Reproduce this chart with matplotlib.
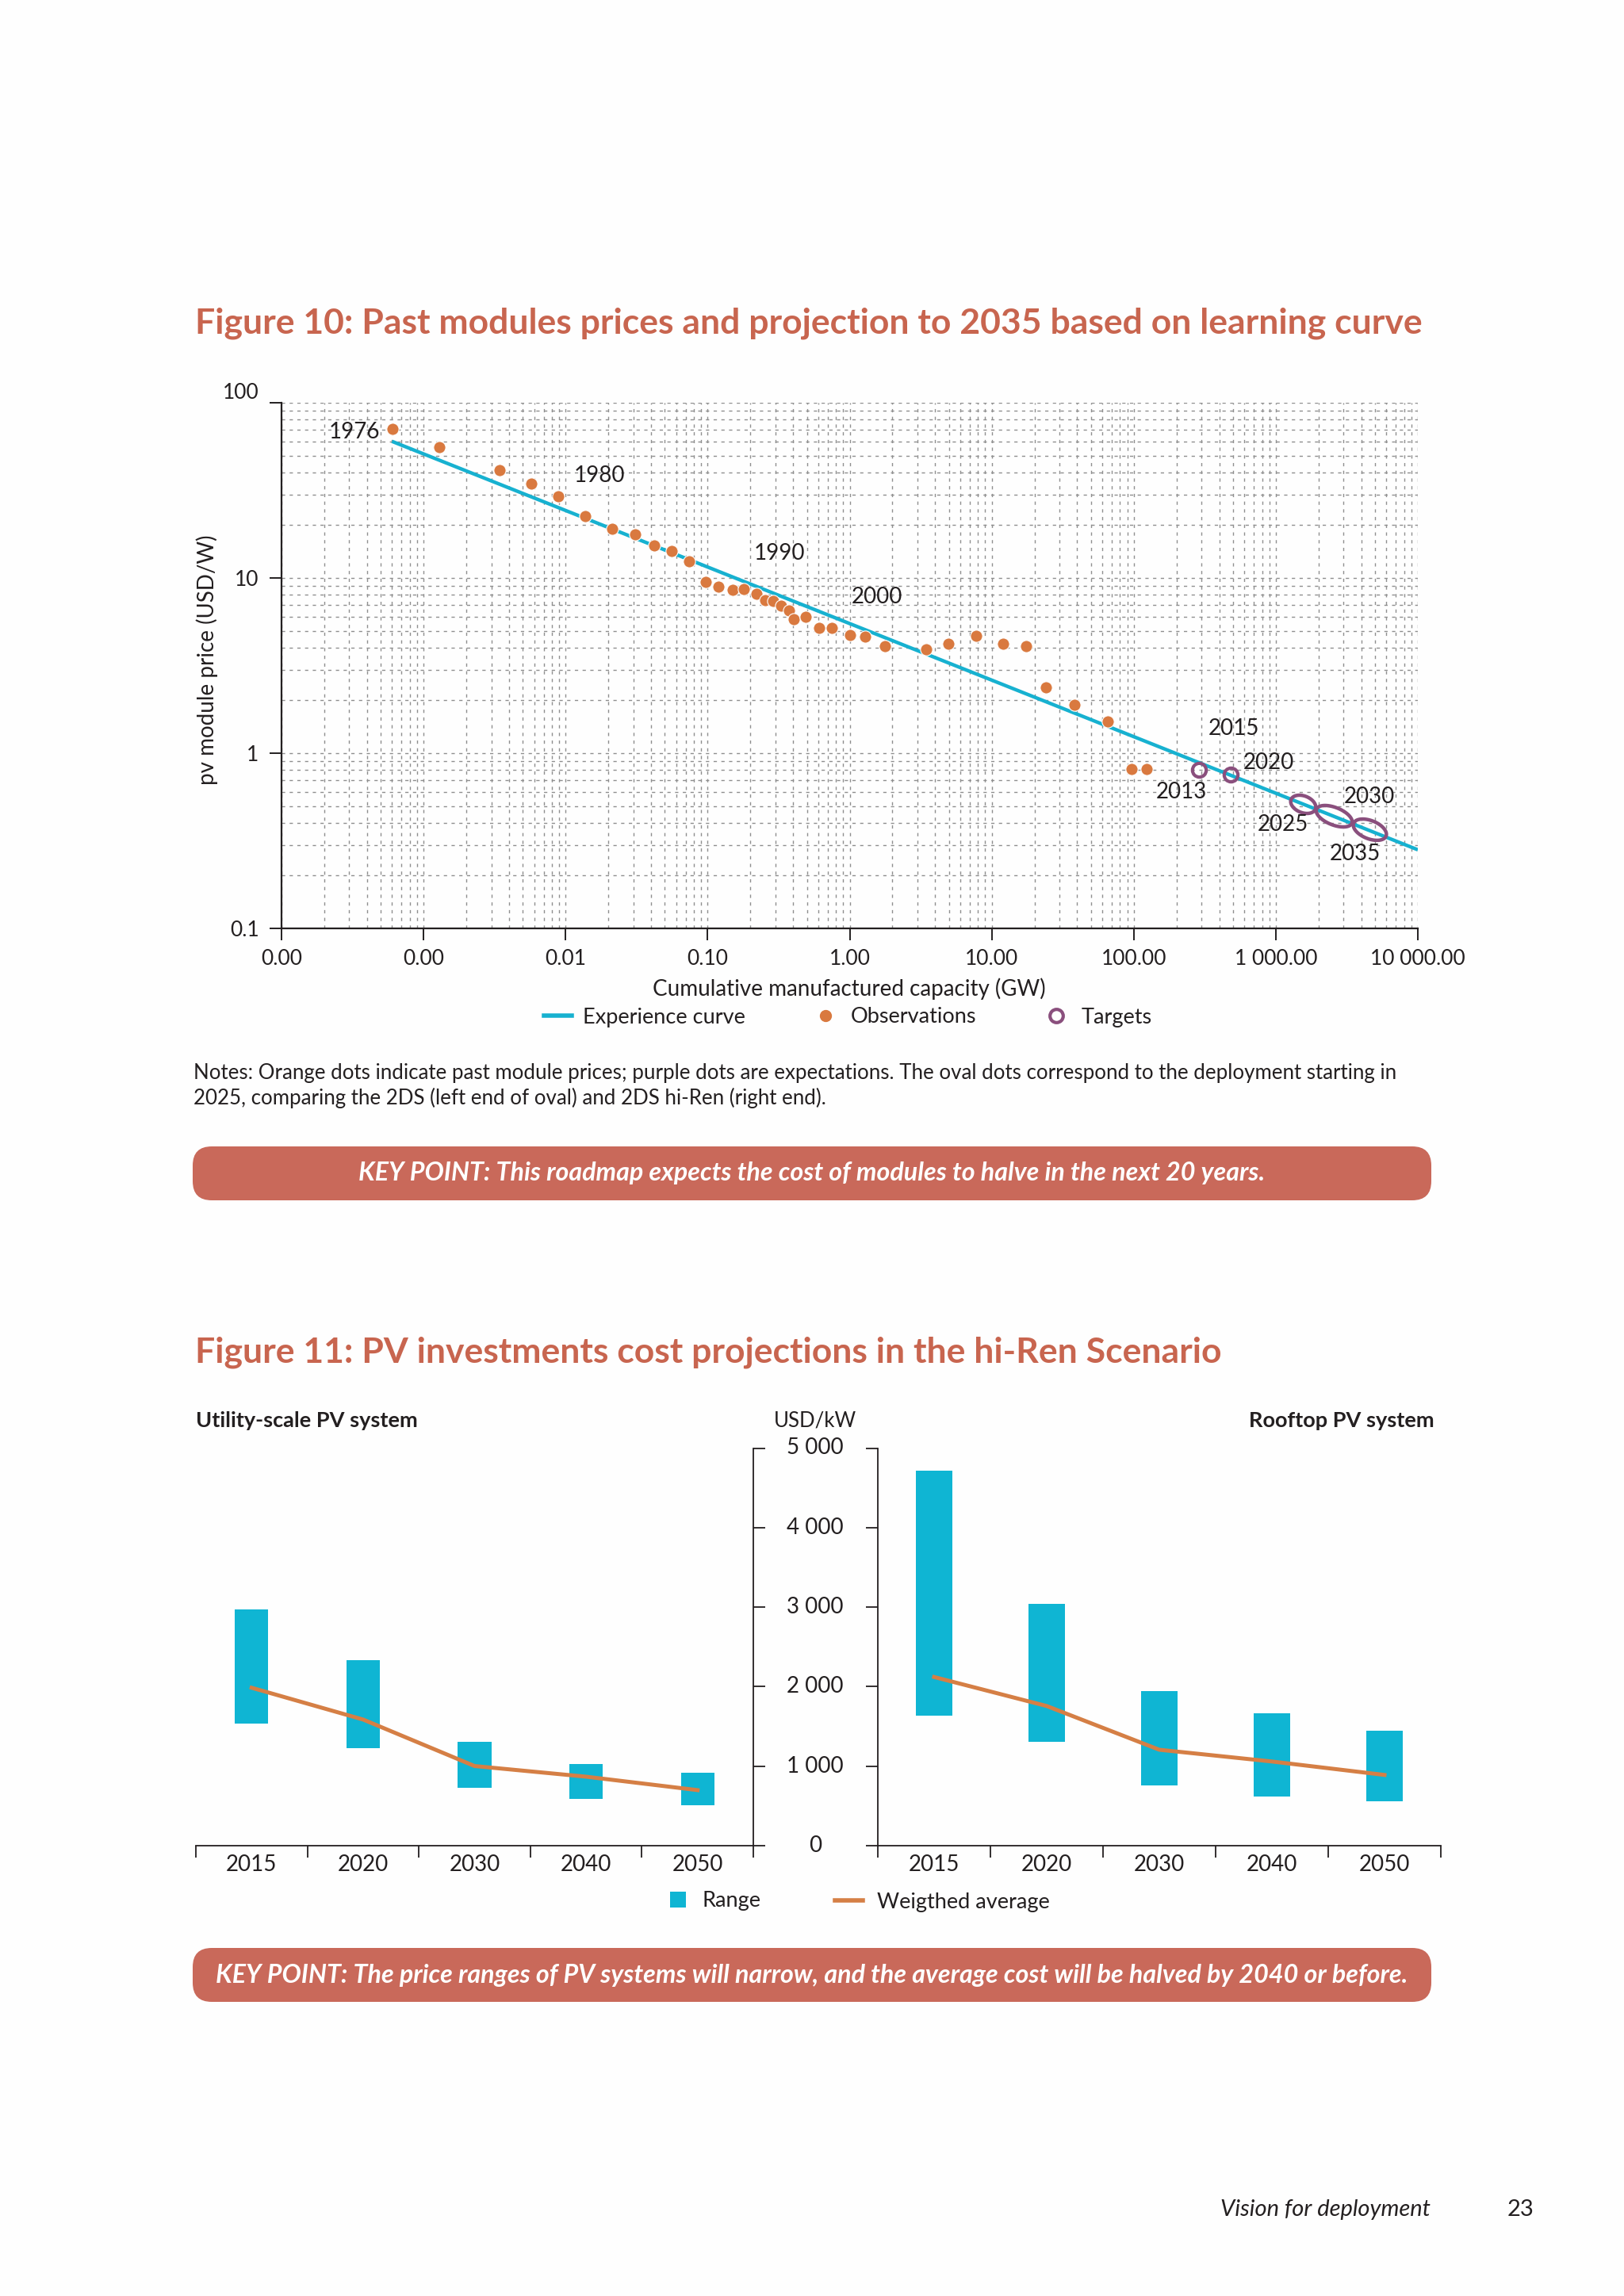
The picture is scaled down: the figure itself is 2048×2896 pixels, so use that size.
import matplotlib
matplotlib.use('Agg')
import matplotlib.pyplot as plt
import matplotlib.transforms as mtransforms
from matplotlib.path import Path
from matplotlib.transforms import Affine2D
from matplotlib.markers import MarkerStyle
from matplotlib.patches import FancyBboxPatch, Patch
from matplotlib.lines import Line2D
from matplotlib.ticker import LogLocator, FixedLocator, FixedFormatter, NullFormatter
import numpy as np

plt.rcParams['font.family'] = ['Lato', 'DejaVu Sans']

# ---------------- data: Figure 10 ----------------
obs_cap = [6.07e-4, 1.29e-3, 3.41e-3, 5.73e-3, 8.93e-3, 0.0137, 0.0214, 0.0310,
           0.0418, 0.0561, 0.0740, 0.0966, 0.119, 0.151, 0.180, 0.220, 0.254,
           0.289, 0.330, 0.372, 0.402, 0.489, 0.612, 0.752, 1.007, 1.285, 1.782,
           3.475, 4.955, 7.80, 12.0, 17.4, 24.2, 38.1, 65.6, 96.2, 123.6]
obs_price = [71.1, 55.8, 41.4, 34.5, 29.3, 22.6, 19.1, 17.8, 15.3, 14.2, 12.4,
             9.5, 8.9, 8.55, 8.6, 8.1, 7.5, 7.4, 6.95, 6.5, 5.8, 6.0, 5.17, 5.17,
             4.74, 4.61, 4.08, 3.90, 4.23, 4.69, 4.23, 4.08, 2.37, 1.89, 1.52,
             0.81, 0.81]
curve_cap = [6.0e-4, 1.0e4]
curve_price = [60.2, 0.281]
target_cap = [289, 482]
target_price = [0.80, 0.757]
oval_cap = [1552, 2553, 4550]
oval_price = [0.516, 0.438, 0.366]
year_labels = ['1976', '1980', '1990', '2000', '2015', '2020', '2013', '2030', '2025', '2035']
year_label_cap = [3.26e-4, 0.0172, 0.319, 1.56, 505, 889, 216, 4550, 1127, 3630]
year_label_price = [68, 38.4, 13.8, 7.76, 1.38, 0.885, 0.598, 0.564, 0.392, 0.265]
x_ticks = [1e-4, 1e-3, 1e-2, 1e-1, 1, 10, 100, 1000, 10000]
x_tick_labels = ['0.00', '0.00', '0.01', '0.10', '1.00', '10.00', '100.00',
                 '1 000.00', '10 000.00']
y_ticks = [0.1, 1, 10, 100]
y_tick_labels = ['0.1', '1', '10', '100']

# ---------------- data: Figure 11 ----------------
years = ['2015', '2020', '2030', '2040', '2050']
util_low = [1530, 1225, 727, 587, 503]
util_high = [2966, 2330, 1305, 1030, 913]
util_avg = [1985, 1585, 1000, 866, 697]
roof_low = [1630, 1305, 752, 613, 558]
roof_high = [4720, 3040, 1940, 1660, 1440]
roof_avg = [2120, 1755, 1205, 1057, 888]
cost_ticks = [0, 1000, 2000, 3000, 4000, 5000]
cost_tick_labels = ['0', '1 000', '2 000', '3 000', '4 000', '5 000']

# ---------------- styles ----------------
W, H = 2048, 2896
TXT = '#231f20'
CYAN = '#17b1d0'
ORANGE = '#d9793f'
PURPLE = '#8a4f7d'
TITLE = '#c8654f'
KEYBOX = '#c9695a'
BAR = '#0fb5d3'
AVG = '#d57f45'
GRID = '#8f8f8f'
FS = 19.5

fig = plt.figure(figsize=(W / 100, H / 100), dpi=100, facecolor='#fefefe')


def px_rect(x0, y0, x1, y1):
    return [x0 / W, 1 - y1 / H, (x1 - x0) / W, (y1 - y0) / H]


def fx(x):
    return x / W


def fy(y):
    return 1 - y / H


# ---------------- Figure 10 ----------------
fig.text(fx(246), fy(420), 'Figure 10: Past modules prices and projection to 2035 based on learning curve',
         color=TITLE, fontsize=32, fontweight='bold', ha='left', va='baseline')

ax = fig.add_axes(px_rect(355, 508, 1788, 1171))
ax.set_facecolor('none')
ax.set_xscale('log')
ax.set_yscale('log')
ax.set_xlim(1e-4, 1e4)
ax.set_ylim(0.1, 100)
ax.xaxis.set_major_locator(FixedLocator(x_ticks))
ax.xaxis.set_major_formatter(FixedFormatter(x_tick_labels))
ax.yaxis.set_major_locator(FixedLocator(y_ticks))
ax.yaxis.set_major_formatter(FixedFormatter(y_tick_labels))
ax.xaxis.set_minor_locator(LogLocator(base=10, subs=np.arange(2, 10), numticks=100))
ax.yaxis.set_minor_locator(LogLocator(base=10, subs=np.arange(2, 10), numticks=100))
ax.xaxis.set_minor_formatter(NullFormatter())
ax.yaxis.set_minor_formatter(NullFormatter())
ax.grid(True, which='both', linestyle=(0, (3, 4)), color=GRID, linewidth=1.0)
ax.set_axisbelow(True)
for s in ['top', 'right']:
    ax.spines[s].set_visible(False)
for s in ['left', 'bottom']:
    ax.spines[s].set_linewidth(1.6)
    ax.spines[s].set_color(TXT)
ax.tick_params(which='minor', length=0)
ax.tick_params(which='major', direction='out', length=10.5, width=1.4, color=TXT,
               labelsize=19, labelcolor=TXT)
ax.tick_params(axis='x', which='major', pad=8)
ax.tick_params(axis='y', which='major', pad=10)
# the '100' label sits slightly above its tick in the original
for t in ax.get_yticklabels():
    if t.get_text() == '100':
        t.set_va('bottom')

ax.plot(curve_cap, curve_price, color=CYAN, lw=3.2, solid_capstyle='butt', zorder=3)
ax.plot(obs_cap, obs_price, ls='none', marker='o', ms=11, mfc=ORANGE, mec='white',
        mew=0.8, zorder=4)
ax.plot(target_cap, target_price, ls='none', marker='o', ms=12.5, mfc='none',
        mec=PURPLE, mew=3.0, zorder=5)

# oval target markers (tilted along the learning curve)
oval_sizes = [(33, 21), (48, 22), (44, 23)]
theta = np.linspace(0, 2 * np.pi, 120)
for cx, cy, (ow, oh) in zip(oval_cap, oval_price, oval_sizes):
    verts = np.column_stack([np.cos(theta) * ow / 2, np.sin(theta) * oh / 2])
    verts = Affine2D().rotate_deg(-21.7).transform(verts)
    ext = np.abs(verts).max()
    path = Path(verts, closed=True)
    ax.plot([cx], [cy], ls='none', marker=MarkerStyle(path), ms=2 * ext * 0.72,
            mfc='none', mec=PURPLE, mew=3.2, zorder=5)

for lbl, lx, ly in zip(year_labels, year_label_cap, year_label_price):
    ax.text(lx, ly, lbl, fontsize=20, color=TXT, ha='center', va='center', zorder=6)

fig.text(fx(261), fy(832), 'pv module price (USD/W)', rotation=90, fontsize=20,
         color=TXT, ha='center', va='center')
fig.text(fx(1071), fy(1247), 'Cumulative manufactured capacity (GW)', fontsize=20,
         color=TXT, ha='center', va='center')

h1 = [Line2D([], [], color=CYAN, lw=4),
      Line2D([], [], ls='none', marker='o', ms=10, mfc=ORANGE, mec=ORANGE),
      Line2D([], [], ls='none', marker='o', ms=12, mfc='none', mec=PURPLE, mew=3)]
fig.legend(h1, ['Experience curve', 'Observations', 'Targets'], loc='center left',
           bbox_to_anchor=(fx(686), fy(1283)), ncol=3, frameon=False, fontsize=FS,
           handlelength=1.3, handletextpad=0.5, columnspacing=3.1, borderpad=0,
           borderaxespad=0, labelcolor=TXT)

fig.text(fx(244), fy(1354),
         'Notes: Orange dots indicate past module prices; purple dots are expectations. '
         'The oval dots correspond to the deployment starting in',
         fontsize=18.6, color=TXT, ha='left', va='center')
fig.text(fx(244), fy(1385),
         '2025, comparing the 2DS (left end of oval) and 2DS hi-Ren (right end).',
         fontsize=18.6, color=TXT, ha='left', va='center')


def key_box(y0, y1, text):
    box = FancyBboxPatch((2.43, (H - y1) / 100), 18.05 - 2.43, (y1 - y0) / 100,
                         boxstyle='round,pad=0,rounding_size=0.24',
                         transform=fig.dpi_scale_trans, facecolor=KEYBOX,
                         edgecolor='none')
    fig.add_artist(box)
    fig.text(fx(1024), fy((y0 + y1) / 2), text, fontsize=23.2, style='italic',
             fontweight='bold', color='white', ha='center', va='center')


key_box(1446, 1514, 'KEY POINT: This roadmap expects the cost of modules to halve in the next 20 years.')

# ---------------- Figure 11 ----------------
fig.text(fx(246), fy(1718), 'Figure 11: PV investments cost projections in the hi-Ren Scenario',
         color=TITLE, fontsize=32, fontweight='bold', ha='left', va='baseline')
fig.text(fx(247), fy(1792), 'Utility-scale PV system', fontsize=FS, fontweight='bold',
         color=TXT, ha='left', va='center')
fig.text(fx(1809), fy(1792), 'Rooftop PV system', fontsize=FS, fontweight='bold',
         color=TXT, ha='right', va='center')
fig.text(fx(1028), fy(1792), 'USD/kW', fontsize=18.5, color=TXT, ha='center', va='center')

x_pos = np.arange(len(years)) + 0.5


def cost_axes(rect, low, high, avg, width, side):
    a = fig.add_axes(rect)
    a.set_facecolor('none')
    heights = [h - l for h, l in zip(high, low)]
    a.bar(x_pos, heights, bottom=low, width=width, color=BAR, zorder=2)
    a.plot(x_pos, avg, color=AVG, lw=3.6, zorder=3, solid_joinstyle='round')
    a.set_xlim(0, len(years))
    a.set_ylim(0, 5000)
    for s in ['top', 'left', 'right', 'bottom']:
        a.spines[s].set_linewidth(1.3)
        a.spines[s].set_color(TXT)
    a.spines['top'].set_visible(False)
    if side == 'right':
        a.spines['left'].set_visible(False)
        a.yaxis.tick_right()
        a.tick_params(axis='y', labelright=False)
    else:
        a.spines['right'].set_visible(False)
        a.tick_params(axis='y', labelleft=False)
    a.set_yticks(cost_ticks)
    a.tick_params(axis='y', direction='out', length=10.8, width=1.3, color=TXT)
    a.set_xticks(np.arange(len(years) + 1))
    a.set_xticklabels([])
    a.set_xticks(x_pos, minor=True)
    a.set_xticklabels(years, minor=True)
    a.tick_params(axis='x', which='major', direction='out', length=11, width=1.3, color=TXT)
    a.tick_params(axis='x', which='minor', length=0, pad=8, labelsize=20, labelcolor=TXT)
    return a


ax_u = cost_axes(px_rect(247, 1826.5, 950, 2327.8), util_low, util_high, util_avg, 0.30, 'right')
ax_r = cost_axes(px_rect(1107, 1826.5, 1817, 2327.8), roof_low, roof_high, roof_avg, 0.32, 'left')

blend = mtransforms.blended_transform_factory(fig.transFigure, ax_r.transData)
for v, lbl in zip(cost_ticks, cost_tick_labels):
    fig.text(fx(1028), v, lbl, transform=blend, fontsize=20, color=TXT,
             ha='center', va='center')

fig.legend([Patch(facecolor=BAR, edgecolor='none')], ['Range'], loc='center left',
           bbox_to_anchor=(fx(845), fy(2398)), frameon=False, fontsize=FS,
           handlelength=0.75, handleheight=0.75, handletextpad=0.75, borderpad=0,
           borderaxespad=0, labelcolor=TXT)
fig.legend([Line2D([], [], color=AVG, lw=4)], ['Weigthed average'], loc='center left',
           bbox_to_anchor=(fx(1053), fy(2399)), frameon=False, fontsize=FS,
           handlelength=1.3, handletextpad=0.65, borderpad=0,
           borderaxespad=0, labelcolor=TXT)

key_box(2457, 2525, 'KEY POINT: The price ranges of PV systems will narrow, and the average cost '
                    'will be halved by 2040 or before.')

# footer
fig.text(fx(1804), fy(2787), 'Vision for deployment', fontsize=21, style='italic',
         color=TXT, ha='right', va='center')
fig.text(fx(1917), fy(2787), '23', fontsize=21, color=TXT, ha='center', va='center')

fig.savefig('out.png', dpi=100, facecolor=fig.get_facecolor())
